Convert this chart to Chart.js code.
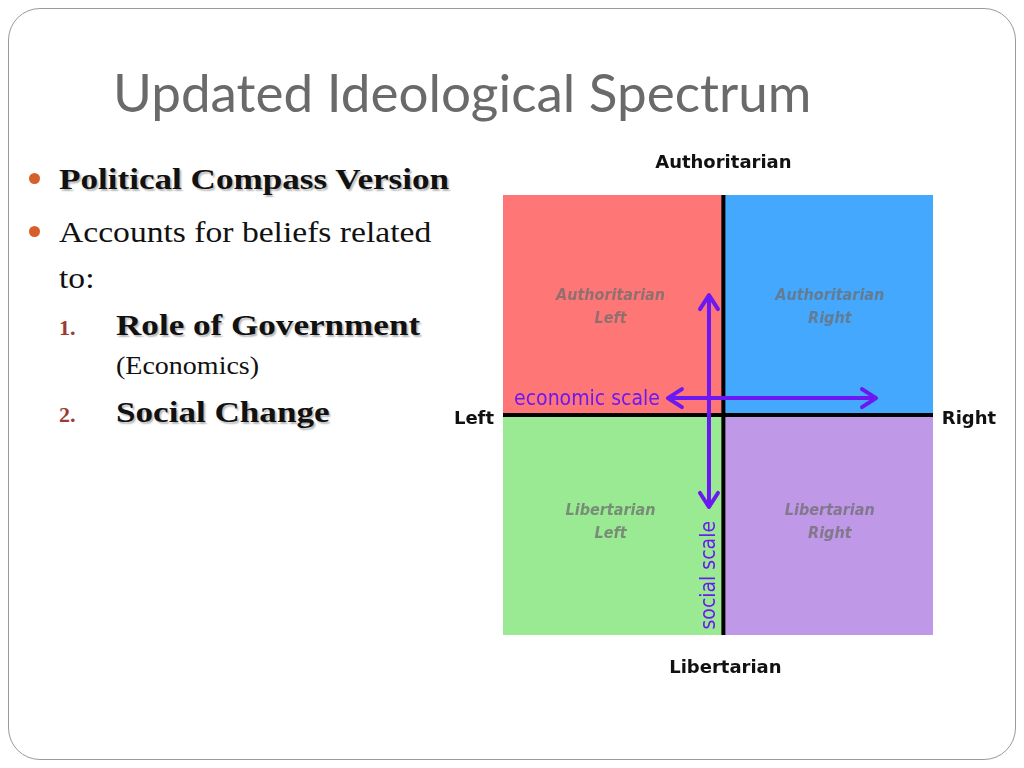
<!DOCTYPE html>
<html><head><meta charset="utf-8">
<script src="https://cdn.jsdelivr.net/npm/chart.js@4"></script>
<style>
body{margin:0;width:1024px;height:768px;background:#fff;position:relative;overflow:hidden;font-family:"Liberation Serif",serif}
#frame{position:absolute;left:8px;top:8px;width:1006px;height:750px;border:1.5px solid #9a9a9a;border-radius:32px}
#title{position:absolute;left:113px;top:60px;font-family:Lato,sans-serif;font-size:53px;color:#6a6a6a;white-space:nowrap}
.t{position:absolute;white-space:nowrap;color:#111;font-size:30px;transform-origin:left top;transform:scaleX(1.12)}
.b{font-weight:bold;text-shadow:1.5px 1.5px 1.5px rgba(0,0,0,0.28);transform:scaleX(1.17)}
.dot{position:absolute;width:11px;height:11px;border-radius:50%;background:#d6602a}
.n{position:absolute;color:#9b3b34;font-weight:bold;font-size:22px}
#cwrap{position:absolute;left:450px;top:150px;width:560px;height:530px}
</style></head><body>
<div id="frame"></div>
<div id="title">Updated Ideological Spectrum</div>
<div class="dot" style="left:29px;top:173px"></div>
<div class="t b" style="left:59px;top:162px">Political Compass Version</div>
<div class="dot" style="left:29px;top:226px"></div>
<div class="t" style="left:59px;top:215px">Accounts for beliefs related</div>
<div class="t" style="left:59px;top:261px">to:</div>
<div class="n" style="left:59px;top:315px">1.</div>
<div class="t b" style="left:116px;top:308px">Role of Government</div>
<div class="t" style="left:116px;top:352px;font-size:25px">(Economics)</div>
<div class="n" style="left:59px;top:402px">2.</div>
<div class="t b" style="left:116px;top:395px">Social Change</div>
<div id="cwrap"><canvas id="c" width="560" height="530"></canvas></div>
<script>
const quadrantNames = ["Authoritarian\nLeft","Authoritarian\nRight","Libertarian\nLeft","Libertarian\nRight"];
const quadX0 = [-10, 0.25, -10, 0.25];
const quadX1 = [0.25, 10, 0.25, 10];
const quadY0 = [0, 0, -10, -10];
const quadY1 = [10, 10, 0, 0];
const quadLabelX = [-5.0, 5.2, -5.0, 5.2];
const quadLabelY = [4.85, 4.85, -4.9, -4.9];
const axisNames = ["Authoritarian","Left","Right","Libertarian"];
const econArrowX = [-2.33, 7.35];
const econArrowY = [0.77, 0.77];
const socialArrowX = [-0.42, -0.42];
const socialArrowY = [5.45, -4.18];
const quadColors = ["#ff7676","#44a8ff","#99ea93","#bf98e8"];
const purple = "#6b18f2";

const compassPlugin = {
  id:'compass',
  beforeDatasetsDraw(chart){
    const {ctx, scales:{x,y}} = chart;
    ctx.save();
    for(let i=0;i<4;i++){
      const l=x.getPixelForValue(quadX0[i]), r=x.getPixelForValue(quadX1[i]);
      const t=y.getPixelForValue(quadY1[i]), b=y.getPixelForValue(quadY0[i]);
      ctx.fillStyle=quadColors[i]; ctx.fillRect(l,t,r-l,b-t);
    }
    ctx.fillStyle='rgba(110,110,110,0.75)';
    ctx.font='italic bold 16px "DejaVu Sans Condensed","Liberation Sans",sans-serif';
    ctx.textAlign='center'; ctx.textBaseline='middle';
    for(let i=0;i<4;i++){
      const lines=quadrantNames[i].split("\n");
      const px=x.getPixelForValue(quadLabelX[i]), py=y.getPixelForValue(quadLabelY[i]);
      ctx.fillText(lines[0],px,py-12); ctx.fillText(lines[1],px,py+11);
    }
    ctx.strokeStyle='#000'; ctx.lineWidth=4;
    const cx=x.getPixelForValue(0.25), cy=y.getPixelForValue(0);
    ctx.beginPath();
    ctx.moveTo(x.getPixelForValue(-10),cy); ctx.lineTo(x.getPixelForValue(10),cy);
    ctx.moveTo(cx,y.getPixelForValue(10)); ctx.lineTo(cx,y.getPixelForValue(-10));
    ctx.stroke();
    ctx.fillStyle='#111'; ctx.font='bold 18px "DejaVu Sans","Liberation Sans",sans-serif';
    ctx.fillText(axisNames[0],cx,chart.chartArea.top-32);
    ctx.fillText(axisNames[3],cx+2,chart.chartArea.bottom+33);
    ctx.fillText(axisNames[1],chart.chartArea.left-29,cy+4);
    ctx.fillText(axisNames[2],chart.chartArea.right+36,cy+4);
    ctx.restore();
  },
  afterDatasetsDraw(chart){
    const {ctx, scales:{x,y}} = chart;
    ctx.save();
    ctx.strokeStyle=purple; ctx.lineWidth=4; ctx.lineCap='round'; ctx.lineJoin='round';
    const head=(px,py,dx,dy)=>{const s=14,w=9;ctx.beginPath();
      ctx.moveTo(px-dx*s+dy*w,py-dy*s+dx*w);ctx.lineTo(px,py);ctx.lineTo(px-dx*s-dy*w,py-dy*s-dx*w);ctx.stroke();};
    const ex0=x.getPixelForValue(econArrowX[0]), ex1=x.getPixelForValue(econArrowX[1]), ey=y.getPixelForValue(econArrowY[0]);
    head(ex0,ey,-1,0); head(ex1,ey,1,0);
    const sx=x.getPixelForValue(socialArrowX[0]), sy0=y.getPixelForValue(socialArrowY[0]), sy1=y.getPixelForValue(socialArrowY[1]);
    head(sx,sy0,0,-1); head(sx,sy1,0,1);
    ctx.fillStyle=purple; ctx.font='21px "DejaVu Sans Condensed","Liberation Sans",sans-serif';
    ctx.textAlign='right'; ctx.textBaseline='middle';
    ctx.fillText('economic scale',ex0-8,ey+1);
    ctx.translate(sx,sy1+14); ctx.rotate(-Math.PI/2);
    ctx.textAlign='right'; ctx.fillText('social scale',0,1);
    ctx.restore();
  }
};

new Chart(document.getElementById('c'),{
  type:'scatter',
  data:{datasets:[
    {data:econArrowX.map((v,i)=>({x:v,y:econArrowY[i]})),showLine:true,borderColor:purple,borderWidth:4,pointRadius:0},
    {data:socialArrowX.map((v,i)=>({x:v,y:socialArrowY[i]})),showLine:true,borderColor:purple,borderWidth:4,pointRadius:0}
  ]},
  options:{responsive:false,animation:false,
    layout:{padding:{left:53,top:45,right:77,bottom:45}},
    plugins:{legend:{display:false},tooltip:{enabled:false}},
    scales:{x:{type:'linear',min:-10,max:10,display:false},y:{type:'linear',min:-10,max:10,display:false}}
  },
  plugins:[compassPlugin]
});
</script>
</body></html>
